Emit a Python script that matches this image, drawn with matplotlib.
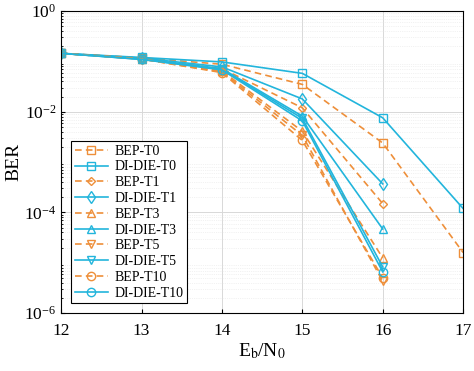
import matplotlib.pyplot as plt
import numpy as np

plt.rcParams['font.family'] = ['Liberation Serif', 'DejaVu Serif']
plt.rcParams['mathtext.fontset'] = 'stix'
plt.rcParams['mathtext.default'] = 'regular'

# Eb/N0 points
snr = [12, 13, 14, 15, 16]
snr_t0 = [12, 13, 14, 15, 16, 17]

# BER values
bep_t0 = [0.145, 0.118, 0.088, 0.035, 0.0024, 1.6e-5]
dide_t0 = [0.145, 0.12, 0.098, 0.058, 0.0076, 1.2e-4]
bep_t1 = [0.145, 0.115, 0.072, 0.012, 1.5e-4]
dide_t1 = [0.145, 0.117, 0.078, 0.018, 3.7e-4]
bep_t3 = [0.145, 0.113, 0.065, 0.0041, 1.25e-5]
dide_t3 = [0.145, 0.112, 0.072, 0.0082, 4.7e-5]
bep_t5 = [0.145, 0.112, 0.062, 0.0034, 4.3e-6]
dide_t5 = [0.145, 0.11, 0.07, 0.0074, 8.3e-6]
bep_t10 = [0.145, 0.112, 0.06, 0.0027, 5.0e-6]
dide_t10 = [0.145, 0.11, 0.068, 0.0066, 6.6e-6]

orange = '#EE8F3A'
cyan = '#22B5DC'

fig = plt.figure(figsize=(4.74, 3.71), dpi=100)
ax = fig.add_axes([0.129, 0.156, 0.848, 0.814])

series = [
    ('BEP-T0', snr_t0, bep_t0, 's', orange, '--'),
    ('DI-DIE-T0', snr_t0, dide_t0, 's', cyan, '-'),
    ('BEP-T1', snr, bep_t1, 'D', orange, '--'),
    ('DI-DIE-T1', snr, dide_t1, 'd', cyan, '-'),
    ('BEP-T3', snr, bep_t3, '^', orange, '--'),
    ('DI-DIE-T3', snr, dide_t3, '^', cyan, '-'),
    ('BEP-T5', snr, bep_t5, 'v', orange, '--'),
    ('DI-DIE-T5', snr, dide_t5, 'v', cyan, '-'),
    ('BEP-T10', snr, bep_t10, 'o', orange, '--'),
    ('DI-DIE-T10', snr, dide_t10, 'o', cyan, '-'),
]
for name, x, y, m, c, ls in series:
    ms = 4.5 if m == 'D' else 6
    ax.semilogy(x, y, ls, color=c, marker=m, markersize=ms, mfc='none',
                mew=1.0, lw=1.2, label=name, dashes=(4, 2.5) if ls == '--' else (None, None))

ax.set_xlim(12, 17)
ax.set_ylim(1e-6, 1)
ax.set_xticks([12, 13, 14, 15, 16, 17])
ax.set_yticks([1e-6, 1e-4, 1e-2, 1])
ax.grid(True, which='major', color='#d8d8d8', lw=0.7)
ax.grid(True, which='minor', color='#e6e6e6', lw=0.5, ls=':')
ax.tick_params(labelsize=12.5, direction='in', which='both', length=3)
ax.tick_params(axis='x', pad=7)
ax.tick_params(which='minor', length=1.5)
ax.set_xlabel('E$_\\mathrm{b}$/N$_\\mathrm{0}$', fontsize=14, labelpad=2)
ax.set_ylabel('BER', fontsize=14, labelpad=1)

leg = ax.legend(loc='lower left', bbox_to_anchor=(0.025, 0.033), fontsize=10,
                frameon=True, fancybox=False, edgecolor='black',
                handlelength=2.4, labelspacing=0.2, borderpad=0.25,
                handletextpad=0.5, borderaxespad=0, framealpha=1)
leg.get_frame().set_linewidth(0.8)

fig.savefig('out.png', dpi=100)
